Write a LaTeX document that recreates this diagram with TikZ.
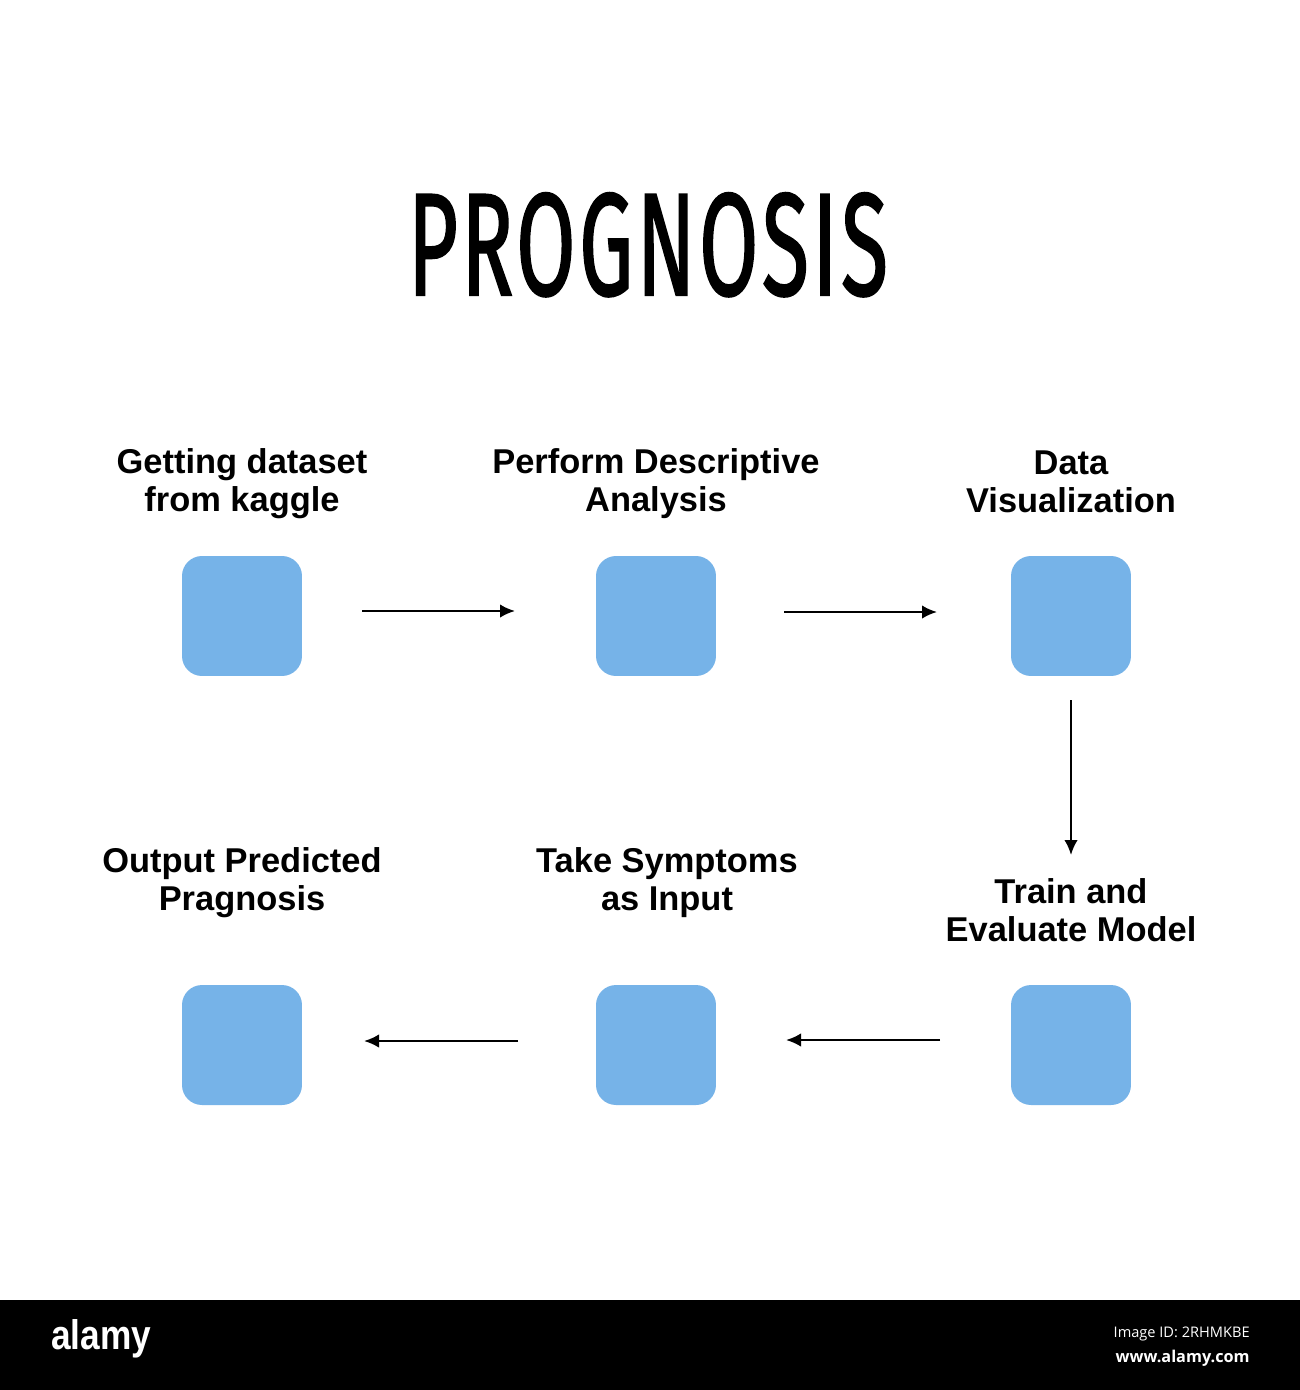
\documentclass[tikz,border=0pt]{standalone}
\usepackage{fontspec}
\setmainfont{Liberation Sans}
\newfontfamily\titlefont[FakeBold=1.6,LetterSpace=4]{Fira Sans}
\newfontfamily\footfont{Open Sans}
\usetikzlibrary{arrows.meta}
\definecolor{boxblue}{RGB}{118,179,232}
\begin{document}
\begin{tikzpicture}[x=0.02cm,y=-0.02cm,
  stepbox/.style={draw=none,fill=boxblue,rounded corners=0.4cm,minimum size=2.4cm,inner sep=0pt},
  lbl/.style={align=center,font=\fontsize{19.6}{21.6}\selectfont\bfseries,inner sep=0pt},
  flow/.style={line width=1.3pt,-{Latex[length=0.3cm,width=0.27cm]}}]
\useasboundingbox (0,0) rectangle (1300,1390);
\fill[white] (0,0) rectangle (1300,1300);
\fill[black] (0,1300) rectangle (1300,1390);
% title
\node[inner sep=0pt,anchor=south] (title) at (648,297) {\resizebox{9.6cm}{2.04cm}{\titlefont PROGNOSIS}};
% boxes
\node[stepbox] (b1) at (242,616) {};
\node[stepbox] (b2) at (656,616) {};
\node[stepbox] (b3) at (1071,616) {};
\node[stepbox] (b4) at (1071,1045) {};
\node[stepbox] (b5) at (656,1045) {};
\node[stepbox] (b6) at (242,1045) {};
% labels
\node[lbl] (l1) at (242,484) {Getting dataset\\from kaggle};
\node[lbl] (l2) at (656,484) {Perform Descriptive\\Analysis};
\node[lbl] (l3) at (1071,482) {Data\\Visualization};
\node[lbl] (l4) at (1071,910) {Train and\\Evaluate Model};
\node[lbl] (l5) at (667,883) {Take Symptoms\\as Input};
\node[lbl] (l6) at (242,883) {Output Predicted\\Pragnosis};
% connectors
\coordinate (a1s) at (362,611); \coordinate (a1e) at (515,611);
\coordinate (a2s) at (784,612); \coordinate (a2e) at (937,612);
\coordinate (a3s) at (1071,700); \coordinate (a3e) at (1071,855);
\coordinate (a4s) at (940,1040); \coordinate (a4e) at (786,1040);
\coordinate (a5s) at (518,1041); \coordinate (a5e) at (364,1041);
\draw[flow] (a1s) -- (a1e);
\draw[flow] (a2s) -- (a2e);
\draw[flow] (a3s) -- (a3e);
\draw[flow] (a4s) -- (a4e);
\draw[flow] (a5s) -- (a5e);
% footer
\node[inner sep=0pt,anchor=south west,text=white] (logo) at (51,1358) {\resizebox{2.0cm}{0.6cm}{\bfseries alamy}};
\node[inner sep=0pt,anchor=base east,text=white] (imgid) at (1250,1337) {\resizebox{2.72cm}{!}{\footfont Image ID: 2RHMKBE}};
\node[inner sep=0pt,anchor=base east,text=white] (www) at (1250,1362) {\resizebox{2.68cm}{!}{\footfont\bfseries www.alamy.com}};
\end{tikzpicture}
\end{document}
